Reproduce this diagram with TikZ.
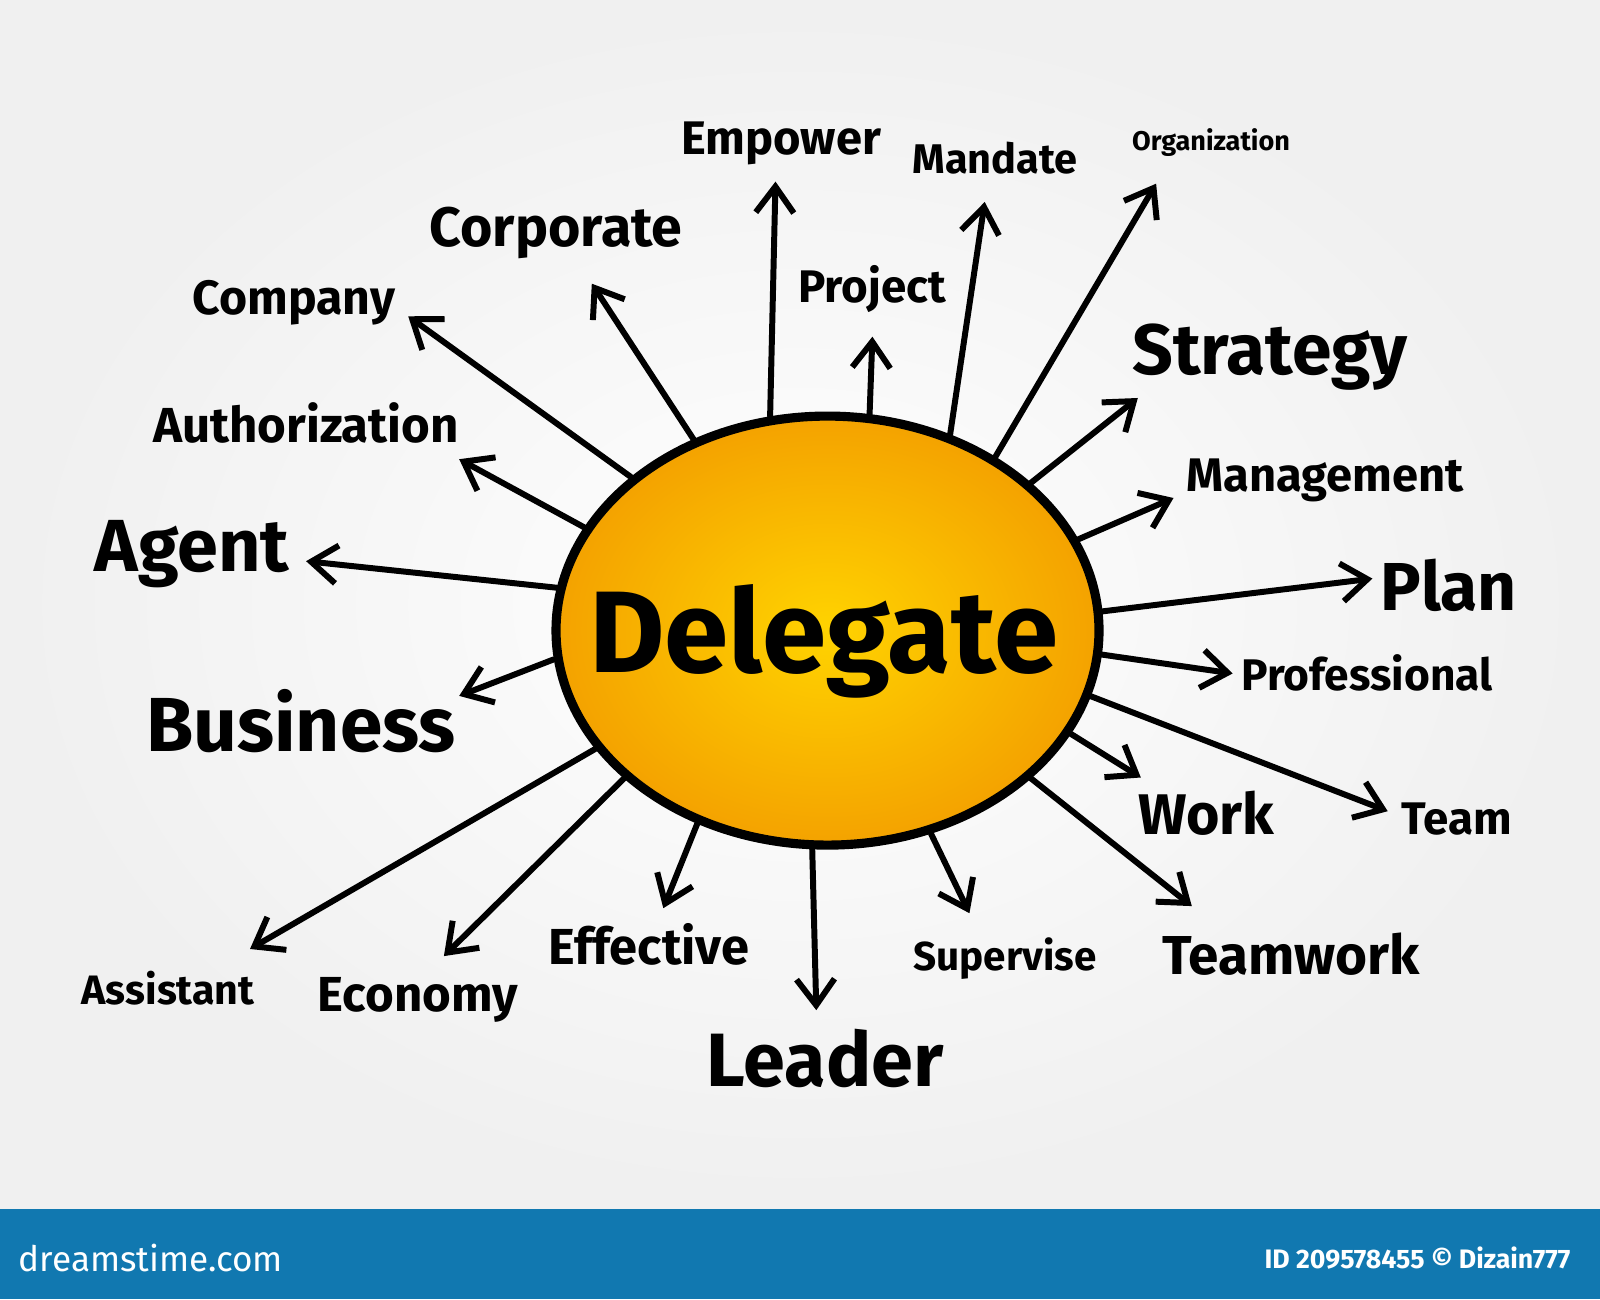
\documentclass[tikz,border=0pt]{standalone}
\usepackage{fontspec}
\setmainfont{Fira Sans}
\usetikzlibrary{shapes.geometric,arrows.meta}
\definecolor{sunin}{HTML}{FFD300}
\definecolor{sunout}{HTML}{F4A200}
\definecolor{barblue}{HTML}{1178B0}
\begin{document}
\begin{tikzpicture}[every node/.style={inner sep=0pt},%
        lbl/.style={font=\fontsize{#1}{#1}\selectfont\bfseries},%
        arr/.style={line width=1.7pt,line cap=round,
          -{Straight Barb[length=2.6mm,width=3.8mm]}},%
        sun/.style={ellipse,draw=black,line width=2.6pt,inner color=sunin,
          outer color=sunout,minimum width=5.43cm,minimum height=4.29cm}]%
        \useasboundingbox (0,0) rectangle (16,12.99);
        \shade[inner color=white,outer color=black!6] (0,0.9) rectangle (16,12.99);
        \fill[barblue] (0,0) rectangle (16,0.9);
        % centre
        \node[sun] (dlg) at (8.275,6.684) {}; \node[lbl=33pt] (dtx) at
        (8.235,6.58) {Delegate};
        % labels
        \node[lbl=13.4pt] (emp) at (7.81,11.56) {Empower}; \node[lbl=11.8pt]
        (mnd) at (9.95,11.41) {Mandate}; \node[lbl=7.7pt] (org) at
        (12.11,11.56) {Organization}; \node[lbl=15.8pt] (cor) at (5.56,10.66)
        {Corporate}; \node[lbl=13pt] (prj) at (8.72,10.10) {Project};
        \node[lbl=13.7pt] (cmp) at (2.94,9.96) {Company}; \node[lbl=20.3pt]
        (str) at (12.70,9.42) {Strategy}; \node[lbl=14pt] (aut) at
        (3.06,8.76) {Authorization}; \node[lbl=13.4pt] (mgt) at (13.25,8.19)
        {Management}; \node[lbl=21pt] (agt) at (1.92,7.45) {Agent};
        \node[lbl=19.3pt] (pln) at (14.49,7.14) {Plan}; \node[lbl=21.8pt]
        (bus) at (3.01,5.78) {Business}; \node[lbl=12.6pt] (pro) at
        (13.67,6.26) {Professional}; \node[lbl=16.3pt] (wrk) at (12.06,4.86)
        {Work}; \node[lbl=13pt] (tea) at (14.57,4.80) {Team};
        \node[lbl=11.7pt] (ast) at (1.68,3.11) {Assistant}; \node[lbl=14pt]
        (eco) at (4.18,2.99) {Economy}; \node[lbl=14.4pt] (eff) at
        (6.49,3.55) {Effective}; \node[lbl=21.5pt] (ldr) at (8.25,2.41)
        {Leader}; \node[lbl=11.5pt] (sup) at (10.05,3.40) {Supervise};
        \node[lbl=15.6pt] (twk) at (12.91,3.45) {Teamwork};
        % arrow tips
        \coordinate (t-emp) at (7.755,11.174); \coordinate (t-mnd) at
        (9.847,10.970); \coordinate (t-org) at (11.561,11.153); \coordinate
        (t-cor) at (5.918,10.153); \coordinate (t-prj) at (8.724,9.623);
        \coordinate (t-cmp) at (4.082,9.827); \coordinate (t-str) at
        (11.378,9.010); \coordinate (t-aut) at (4.592,8.398); \coordinate
        (t-mgt) at (11.735,8.010); \coordinate (t-agt) at (3.061,7.378);
        \coordinate (t-pln) at (13.724,7.204); \coordinate (t-bus) at
        (4.592,6.031); \coordinate (t-pro) at (12.326,6.255); \coordinate
        (t-wrk) at (11.408,5.215); \coordinate (t-tea) at (13.877,4.878);
        \coordinate (t-ast) at (2.500,3.500); \coordinate (t-eco) at
        (4.439,3.429); \coordinate (t-eff) at (6.633,3.908); \coordinate
        (t-ldr) at (8.163,2.888); \coordinate (t-sup) at (9.694,3.858);
        \coordinate (t-twk) at (11.918,3.929);
        % arrows
        \draw[arr] (dlg.105.6) -- (t-emp); \draw[arr] (dlg.58.4) -- (t-mnd);
        \draw[arr] (dlg.46.4) -- (t-org); \draw[arr] (dlg.125.5) -- (t-cor);
        \draw[arr] (dlg.79.3) -- (t-prj); \draw[arr] (dlg.142.7) -- (t-cmp);
        \draw[arr] (dlg.36) -- (t-str); \draw[arr] (dlg.157.3) -- (t-aut);
        \draw[arr] (dlg.20.9) -- (t-mgt); \draw[arr] (dlg.171.2) -- (t-agt);
        \draw[arr] (dlg.4.4) -- (t-pln); \draw[arr] (dlg.186.7) -- (t-bus);
        \draw[arr] (dlg.-5.5) -- (t-pro); \draw[arr] (dlg.-23.8) -- (t-wrk);
        \draw[arr] (dlg.-14.4) -- (t-tea); \draw[arr] (dlg.207) -- (t-ast);
        \draw[arr] (dlg.216.4) -- (t-eco); \draw[arr] (dlg.236.4) -- (t-eff);
        \draw[arr] (dlg.266.2) -- (t-ldr); \draw[arr] (dlg.297.7) -- (t-sup);
        \draw[arr] (dlg.324.8) -- (t-twk);
        % bottom bar
        \node[font=\fontsize{10pt}{10pt}\selectfont,text=white,anchor=west]
        (dms) at (0.18,0.41) {dreamstime.com}; \node[lbl=7.6pt,text=white,
        anchor=east] (idn) at (15.71,0.41) {ID 209578455 © Dizain777};
\end{tikzpicture}
\end{document}
